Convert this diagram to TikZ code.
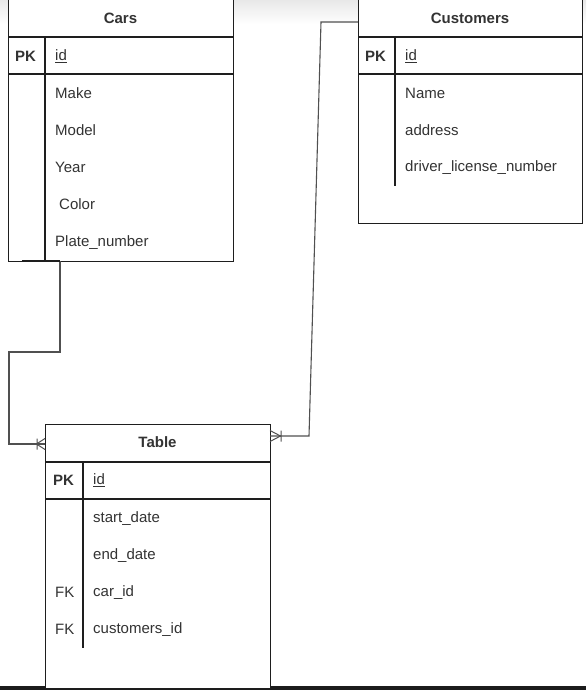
\documentclass[tikz,border=0pt]{standalone}
\usepackage{fontspec}
\setmainfont{Liberation Sans}
\definecolor{bordc}{HTML}{1E1E1E}
\definecolor{linkc}{HTML}{505050}
\definecolor{barc}{HTML}{1C1C1C}
\definecolor{txtc}{HTML}{333333}
\begin{document}
\begin{tikzpicture}[x=1pt,y=-1pt,
  entity/.style={draw=bordc,line width=1.2pt,anchor=north west,inner sep=0pt,fill=white},
  sep/.style={draw=bordc,line width=1.2pt},
  hdr/.style={font=\fontsize{15}{18}\selectfont\bfseries,text=txtc,inner sep=0pt,anchor=center},
  fld/.style={font=\fontsize{15}{18}\selectfont,text=txtc,inner sep=0pt,anchor=west},
  key/.style={font=\fontsize{15}{18}\selectfont\bfseries,text=txtc,inner sep=0pt,anchor=west},
  fkey/.style={font=\fontsize{15}{18}\selectfont,text=txtc,inner sep=0pt,anchor=west},
  link/.style={draw=linkc,line width=1.1pt},
  foot/.style={draw=linkc,line width=1pt}]
\useasboundingbox (0,0) rectangle (586,690);
\shade[top color=black!9,bottom color=white] (0,0) rectangle (586,24);
\fill[barc] (0,686) rectangle (586,690);

% Cars
\node[entity,minimum width=225pt,minimum height=263pt] (cars) at (8,-2) {};
\draw[sep] (8,37) -- (233,37);
\draw[sep] (8,74) -- (233,74);
\draw[sep] (45,37) -- (45,261);
\node[hdr] (carsh) at (120.5,18.5) {Cars};
\node[key] (carspk) at (15,56.5) {PK};
\node[fld] (carsid) at (55,56.5) {\underline{id}};
\node[fld] (make) at (55,93.5) {Make};
\node[fld] (model) at (55,130.5) {Model};
\node[fld] (year) at (55,167.5) {Year};
\node[fld] (color) at (59,204.5) {Color};
\node[fld] (plate) at (55,242.5) {Plate\_number};

% Customers
\node[entity,minimum width=224pt,minimum height=225pt] (cust) at (358,-2) {};
\draw[sep] (358,37) -- (582,37);
\draw[sep] (358,74) -- (582,74);
\draw[sep] (395,37) -- (395,186);
\node[hdr] (custh) at (470,18.5) {Customers};
\node[key] (custpk) at (365,56.5) {PK};
\node[fld] (custid) at (405,56.5) {\underline{id}};
\node[fld] (name) at (405,93.5) {Name};
\node[fld] (addr) at (405,130.5) {address};
\node[fld] (dln) at (405,167.5) {driver\_license\_number};

% Table
\node[entity,minimum width=225pt,minimum height=264pt] (tbl) at (45,424) {};
\draw[sep] (45,462) -- (270,462);
\draw[sep] (45,499) -- (270,499);
\draw[sep] (83,462) -- (83,648);
\node[hdr] (tblh) at (157.5,442.5) {Table};
\node[key] (tblpk) at (53,480.5) {PK};
\node[fld] (tblid) at (93,480.5) {\underline{id}};
\node[fld] (sd) at (93,518.5) {start\_date};
\node[fld] (ed) at (93,555.5) {end\_date};
\node[fkey] (fk1) at (55,592.5) {FK};
\node[fld] (carid) at (93,592.5) {car\_id};
\node[fkey] (fk2) at (55,629.5) {FK};
\node[fld] (custidf) at (93,629.5) {customers\_id};

% connector Cars -> Table
\coordinate (c1s) at (60,261);
\coordinate (c1e) at (45,444);
\draw[link] (c1s) -- (60,352) -- (9,352) -- (9,444) -- (c1e);
\draw[draw=bordc,line width=2.2pt] (22,261) -- (c1s);
\draw[foot] (36.5,444) -- (45,438.5) (36.5,444) -- (45,449.5) (37,438.5) -- (37,449.5);

% connector Customers -> Table
\coordinate (c2s) at (358,22);
\coordinate (c2e) at (270,436);
\draw[link] (c2s) -- (321,22) -- (309,436) -- (c2e);
\draw[foot] (280.5,436) -- (270,430.5) (280.5,436) -- (270,441.5) (281,430.5) -- (281,441.5);
\end{tikzpicture}
\end{document}
